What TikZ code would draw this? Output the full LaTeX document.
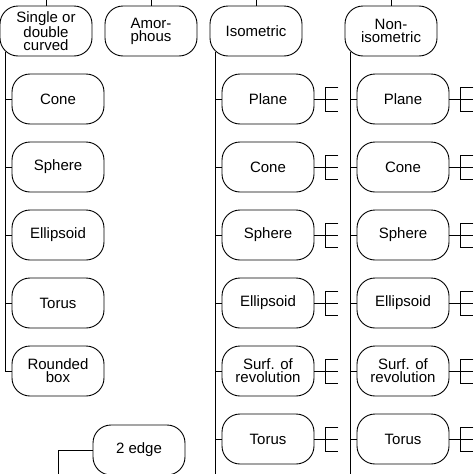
\documentclass[tikz,border=0pt]{standalone}
\usepackage{fontspec}
\setmainfont{Liberation Sans}
\begin{document}
\begin{tikzpicture}[x=1pt,y=1pt,
    box/.style={draw, line width=0.9pt, rounded corners=18pt, fill=white,
      minimum width=92pt, minimum height=50pt, inner sep=0pt, align=center,
      font=\fontsize{15}{13}\selectfont},
    link/.style={line width=0.9pt}]
  \useasboundingbox (0,0) rectangle (474,-474);
  % top row
  \node[box] (sing) at (46,-31) {Single or\\double\\curved};
  \node[box] (amor) at (151,-31) {Amor-\\phous};
  \node[box] (iso) at (256,-31) {Isometric};
  \node[box] (noniso) at (391,-31) {Non-\\isometric};
  \foreach \n in {sing,amor,iso,noniso}
    \draw[link] (\n.north) -- (\n.north |- 0,0);
  % single or double curved
  \foreach \t [count=\i] in {Cone,Sphere,Ellipsoid,Torus,{Rounded\\box}} {
    \node[box] (s\i) at (58,-31-68*\i) {\t};
    \draw[link] ([xshift=6pt,yshift=4pt]sing.south west) |- (s\i.west);
  }
  % isometric and non-isometric
  \foreach \p/\c/\x in {iso/i/268,noniso/n/403} {
    \coordinate (\c end) at ([xshift=6pt]\p.south west |- 0,-474);
    \draw[link] ([xshift=6pt,yshift=4pt]\p.south west) -- (\c end);
    \foreach \t [count=\i] in {Plane,Cone,Sphere,Ellipsoid,{Surf. of\\revolution},Torus} {
      \node[box] (\c\i) at (\x,-31-68*\i) {\t};
      \draw[link] (\c end |- \c\i.west) -- (\c\i.west);
      \draw[link] (\c\i.east) -- ++(24,0)
        ([xshift=24pt,yshift=12pt]\c\i.east) -| ([xshift=11pt,yshift=-12pt]\c\i.east) -- ++(13,0);
    }
  }
  % 2 edge
  \node[box] (edge) at (139,-450) {2 edge};
  \coordinate (edgeend) at (58,-474);
  \draw[link] (edge.west) -| (edgeend);
\end{tikzpicture}
\end{document}
